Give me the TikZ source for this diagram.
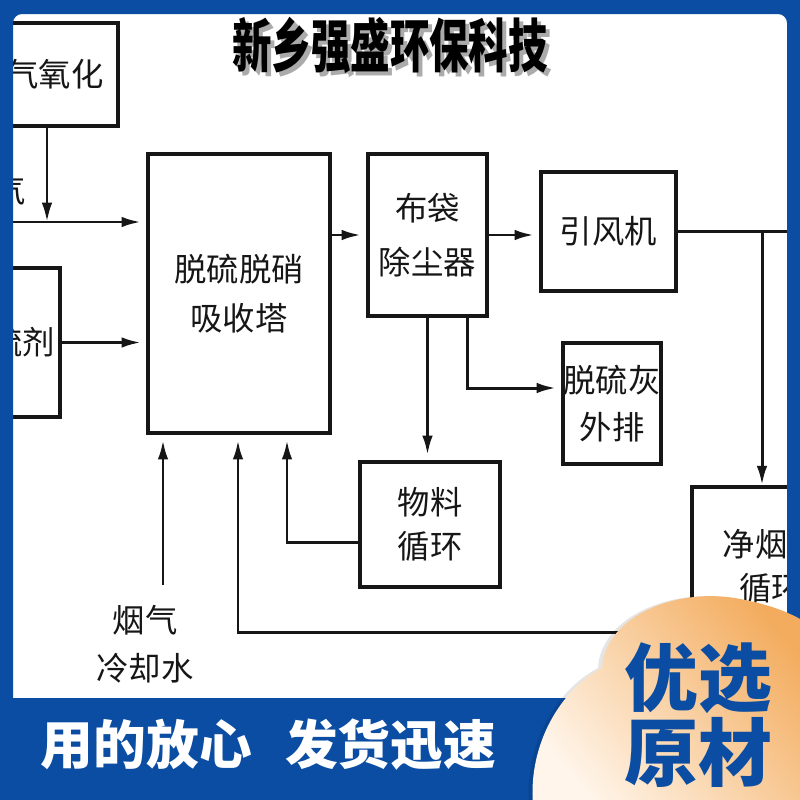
\documentclass[tikz,border=0pt]{standalone}
\usepackage{fontspec}
\usepackage{graphicx}
\usetikzlibrary{arrows.meta,positioning,calc}
\newfontfamily\cjk{Noto Sans CJK SC}
\definecolor{FrameBlue}{HTML}{0A4DA3}
\definecolor{CloudLight}{HTML}{FFF5EA}
\definecolor{CloudDeep}{HTML}{F3AC5E}
\definecolor{LineInk}{HTML}{161616}

\begin{document}
\begin{tikzpicture}[x=0.01cm,y=-0.01cm]
    \tikzset{unit/.style={draw=LineInk,line width=1pt,align=center,inner sep=0pt,
      text=LineInk,font=\cjk\fontsize{9.2}{14}\selectfont},
      flow/.style={draw=LineInk,line width=0.85pt,-{Latex[length=5.5pt,width=3pt]},shorten >=1.5pt},
      wire/.style={draw=LineInk,line width=0.85pt},
      tag/.style={align=center,inner sep=0pt,text=LineInk,font=\cjk\fontsize{9.2}{13.6}\selectfont}}
    \useasboundingbox (0,0) rectangle (800,800);
    \fill[white] (0,0) rectangle (800,800);

    \node[unit,minimum width=1.58cm,minimum height=1.03cm] (ozone) at (39,74.5) {空气氧化};
    \node[tag] (gaslbl) at (-6,190) {烟气};
    \node[unit,minimum width=1.07cm,minimum height=1.49cm] (agent) at (6.5,342.5) {脱硫剂};
    \node[unit,minimum width=1.82cm,minimum height=2.79cm] (tower) at (239,293.5) {脱硫脱硝\\吸收塔};
    \node[unit,minimum width=1.19cm,minimum height=1.62cm,font=\cjk\fontsize{9.2}{15.4}\selectfont] (bagf) at (427.5,235) {布袋\\除尘器};
    \node[unit,minimum width=1.35cm,minimum height=1.19cm] (fan) at (608.5,231.5) {引风机};
    \node[unit,minimum width=0.98cm,minimum height=1.21cm,font=\cjk\fontsize{9.2}{13.4}\selectfont] (ash) at (612,403.5) {脱硫灰\\外排};
    \node[unit,minimum width=1.40cm,minimum height=1.25cm,font=\cjk\fontsize{9.2}{12.4}\selectfont] (recirc) at (430,524.5) {物料\\循环};
    \node[unit,minimum width=1.59cm,minimum height=1.58cm,font=\cjk\fontsize{9.2}{12.4}\selectfont] (clean) at (771.5,566) {净烟气\\循环};
    \node[tag] (coolant) at (145,644) {烟气\\冷却水};

    \coordinate (gasin) at (-20,222);
    \coordinate (oxdrop) at (47,222);
    \coordinate (stack) at (820,231.5);
    \coordinate (split) at (762,231.5);
    \coordinate (ashturn) at (467,388);
    \coordinate (matturn) at (287,542);
    \coordinate (backturn) at (238,632);
    \coordinate (coolin) at (163,585);

    \draw[flow,shorten >=0pt] (ozone.south -| oxdrop) -- (oxdrop);
    \draw[flow] (gasin) -- (gasin -| tower.west);
    \draw[flow] (agent.east) -- (agent.east -| tower.west);
    \draw[flow] (bagf.west -| tower.east) -- (bagf.west);
    \draw[flow] (bagf.east) -- (bagf.east -| fan.west);
    \draw[wire] (fan.east) -- (stack);
    \draw[flow,shorten >=0pt] (split) -- (split |- clean.north);
    \draw[flow] (bagf.south) -- (bagf.south |- recirc.north);
    \draw[flow] (bagf.south -| ashturn) |- (ash.west |- ashturn);
    \draw[flow] (recirc.west |- matturn) -| (tower.south -| matturn);
    \draw[flow] (clean.west |- backturn) -| (tower.south -| backturn);
    \draw[flow] (coolin) -- (tower.south -| coolin);

    \fill[FrameBlue,even odd rule] (0,0) rectangle (800,800)
      (13,698) [rounded corners=0.09cm] -- (13,14) -- (787,14) [sharp corners] -- (787,698) -- cycle;

    \node[text=black!55,opacity=0.6,font=\cjk\bfseries\fontsize{16.5}{18}\selectfont] at (394,49)
      {\scalebox{0.68}[1]{新乡强盛环保科技}};
    \node[text=black,font=\cjk\bfseries\fontsize{16.5}{18}\selectfont] (title) at (390,45)
      {\scalebox{0.68}[1]{新乡强盛环保科技}};

    \node[text=white,font=\cjk\bfseries\fontsize{15}{16}\selectfont] (slogan) at (268.5,745)
      {用的放心\hspace{9.5pt}发货迅速};

    \fill[black,opacity=0.1] (529,805) .. controls (524,745) and (556,690) .. (598,668)
      .. controls (601,615) and (676,585) .. (741,600) .. controls (773,606) and (795,615) .. (810,625)
      -- (810,805) -- cycle;
    \shade[bottom color=CloudLight,top color=CloudDeep,shading angle=-50]
      (533,805) .. controls (528,745) and (560,690) .. (602,668)
      .. controls (605,615) and (680,585) .. (745,600) .. controls (775,606) and (795,615) .. (810,625)
      -- (810,805) -- cycle;
    \node[text=FrameBlue,align=center,font=\cjk\bfseries\fontsize{21}{20}\selectfont] (badge) at (698,715)
      {优选\\原材};
  \end{tikzpicture}
\end{document}
